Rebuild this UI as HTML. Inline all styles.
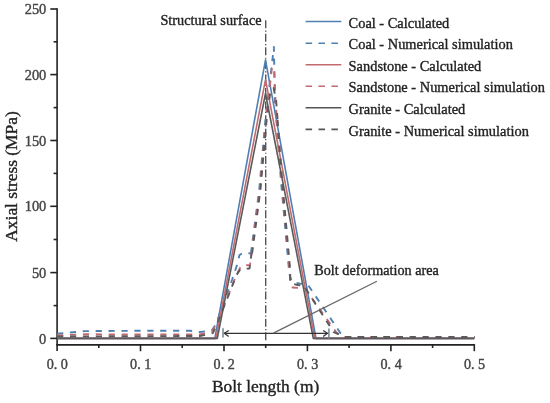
<!DOCTYPE html>
<html><head><meta charset="utf-8">
<style>
html,body{margin:0;padding:0;background:#fff;}
svg{display:block;filter:blur(0.35px);}
text{font-family:"Liberation Serif","Times New Roman",serif;fill:#222;stroke:#222;stroke-width:0.35px;}
.tk text{fill:#444;stroke:#444;stroke-width:0.42px;}
</style></head>
<body>
<svg width="550" height="403" viewBox="0 0 550 403">
<rect width="550" height="403" fill="#fff"/>

<!-- axes -->
<g stroke="#222" stroke-width="1.6" fill="none">
  <line x1="57.1" y1="8.2" x2="57.1" y2="351"/>
  <line x1="56.3" y1="344.9" x2="474.3" y2="344.9"/>
  <!-- y major ticks -->
  <line x1="50.3" y1="9" x2="57.1" y2="9"/>
  <line x1="50.3" y1="74.6" x2="57.1" y2="74.6"/>
  <line x1="50.3" y1="140.5" x2="57.1" y2="140.5"/>
  <line x1="50.3" y1="206.3" x2="57.1" y2="206.3"/>
  <line x1="50.3" y1="272.6" x2="57.1" y2="272.6"/>
  <line x1="50.3" y1="338.4" x2="57.1" y2="338.4"/>
  <!-- y minor ticks -->
  <line x1="53.6" y1="41.8" x2="57.1" y2="41.8"/>
  <line x1="53.6" y1="107.6" x2="57.1" y2="107.6"/>
  <line x1="53.6" y1="173.4" x2="57.1" y2="173.4"/>
  <line x1="53.6" y1="239.5" x2="57.1" y2="239.5"/>
  <line x1="53.6" y1="305.6" x2="57.1" y2="305.6"/>
  <!-- x major ticks -->
  <line x1="140.5" y1="344.9" x2="140.5" y2="351.2"/>
  <line x1="224" y1="344.9" x2="224" y2="351.2"/>
  <line x1="307.4" y1="344.9" x2="307.4" y2="351.2"/>
  <line x1="390.9" y1="344.9" x2="390.9" y2="351.2"/>
  <line x1="474.3" y1="344.1" x2="474.3" y2="351.2"/>
  <!-- x minor ticks -->
  <line x1="98.8" y1="344.9" x2="98.8" y2="348"/>
  <line x1="182.2" y1="344.9" x2="182.2" y2="348"/>
  <line x1="265.7" y1="344.9" x2="265.7" y2="348"/>
  <line x1="349.1" y1="344.9" x2="349.1" y2="348"/>
  <line x1="432.6" y1="344.9" x2="432.6" y2="348"/>
</g>

<!-- tick labels -->
<g class="tk" font-size="15.2" text-anchor="end">
  <text x="46.3" y="14.1" textLength="21.6" lengthAdjust="spacingAndGlyphs">250</text>
  <text x="46.3" y="79.7" textLength="21.6" lengthAdjust="spacingAndGlyphs">200</text>
  <text x="46.3" y="145.6" textLength="21.6" lengthAdjust="spacingAndGlyphs">150</text>
  <text x="46.3" y="211.4" textLength="21.6" lengthAdjust="spacingAndGlyphs">100</text>
  <text x="46.3" y="277.7" textLength="14.4" lengthAdjust="spacingAndGlyphs">50</text>
  <text x="46.3" y="343.5" textLength="7.2" lengthAdjust="spacingAndGlyphs">0</text>
</g>
<g class="tk" font-size="15.2" text-anchor="middle">
  <text x="57.3" y="368.7" textLength="21.2" lengthAdjust="spacingAndGlyphs">0. 0</text>
  <text x="140.7" y="368.7" textLength="21.2" lengthAdjust="spacingAndGlyphs">0. 1</text>
  <text x="224.2" y="368.7" textLength="21.2" lengthAdjust="spacingAndGlyphs">0. 2</text>
  <text x="307.6" y="368.7" textLength="21.2" lengthAdjust="spacingAndGlyphs">0. 3</text>
  <text x="391.1" y="368.7" textLength="21.2" lengthAdjust="spacingAndGlyphs">0. 4</text>
  <text x="474.5" y="368.7" textLength="21.2" lengthAdjust="spacingAndGlyphs">0. 5</text>
</g>

<!-- axis titles -->
<text x="265.6" y="391.5" font-size="17.4" text-anchor="middle">Bolt length (m)</text>
<text transform="translate(16.6,176.5) rotate(-90)" font-size="17.4" text-anchor="middle">Axial stress (MPa)</text>

<!-- structural surface -->
<text x="160.4" y="25.1" font-size="14.3">Structural surface</text>
<line x1="265.7" y1="20.2" x2="265.7" y2="341.3" stroke="#555" stroke-width="1.4" stroke-dasharray="8 2.3 1.2 2.07"/>

<!-- data -->
<g fill="none" stroke-width="1.6" stroke-linejoin="round">
  <polyline stroke="#5080b2" points="57.1,338.4 214.8,338.4 265.5,59.8 316.0,338.4 474.3,338.4"/>
  <polyline stroke="#5080b2" stroke-width="1.9" stroke-dasharray="6.2 6.7" points="57.1,333.8 70.0,332.5 85.0,331.1 150.0,330.7 190.0,330.7 200.0,332.0 211.7,330.5 216.0,324.0 224.0,302.0 232.0,280.0 237.0,265.0 239.5,255.0 243.0,253.0 251.5,253.5"/>
  <polyline stroke="#5080b2" stroke-width="1.9" stroke-dasharray="6.2 6.7" points="250.9,253.5 259.2,190.0 265.4,120.0 273.9,47.0 274.9,100.0 276.4,120.0"/>
  <polyline stroke="#5080b2" stroke-width="1.9" stroke-dasharray="6.2 6.7" points="276.4,120.0 280.9,180.0 285.4,230.0 289.0,270.0 289.9,276.0 291.9,282.0 299.4,283.5 307.4,284.0 340.4,333.0 345.4,337.0 351.4,338.0"/>
  <polyline stroke="#c26a70" points="57.1,338.4 216.0,338.4 265.5,79.7 314.8,338.4 474.3,338.4"/>
  <polyline stroke="#c26a70" stroke-width="1.9" stroke-dasharray="6.2 6.7" points="57.1,335.4 85.0,334.3 200.0,334.5 212.0,331.5 218.0,321.0 228.0,296.0 236.0,276.0 240.0,268.0 242.0,265.5 250.0,265.0 250.9,258.0 251.5,253.5"/>
  <polyline stroke="#c26a70" stroke-width="1.9" stroke-dasharray="6.2 6.7" points="251.5,253.5 259.8,190.0 266.0,120.0 271.9,68.0 274.0,67.0 275.5,100.0 277.0,120.0"/>
  <polyline stroke="#c26a70" stroke-width="1.9" stroke-dasharray="6.2 6.7" points="277.0,120.0 281.5,180.0 286.0,230.0 289.6,270.0 290.2,280.0 292.5,287.5 299.0,288.0 304.0,287.0 337.5,334.0 345.0,337.0 400.0,337.0"/>
  <polyline stroke="#5a5a5a" points="57.1,338.4 217.3,338.4 265.5,93.5 313.3,338.4 474.3,338.4"/>
  <polyline stroke="#5a5a5a" stroke-width="1.9" stroke-dasharray="6.2 6.7" points="57.1,336.5 200.0,336.0 213.0,333.0 219.0,319.0 229.0,294.0 236.5,275.0 240.5,269.0 249.5,268.5 250.0,265.0 251.5,253.5"/>
  <polyline stroke="#5a5a5a" stroke-width="1.9" stroke-dasharray="6.2 6.7" points="252.1,253.5 260.4,190.0 266.6,120.0 270.6,90.0 273.6,88.0 276.1,100.0 277.6,120.0"/>
  <polyline stroke="#5a5a5a" stroke-width="1.9" stroke-dasharray="6.2 6.7" points="277.6,120.0 282.1,180.0 286.6,230.0 290.2,270.0 290.2,283.0 297.6,285.0 303.6,285.5 333.6,332.0 345.6,337.0 474.9,337.0"/>
</g>

<!-- deformation area arrow -->
<g stroke="#333" stroke-width="1.2" fill="none">
  <line x1="224" y1="333.3" x2="327.7" y2="333.3"/>
  <polyline points="228.7,330.4 224.3,333.3 228.7,336.4"/>
  <polyline points="323.2,330.4 327.5,333.3 323.2,336.5"/>
</g>
<line x1="223" y1="328.2" x2="223" y2="337.6" stroke="#6f8290" stroke-width="1.5"/>
<line x1="328.9" y1="328.5" x2="328.9" y2="338.4" stroke="#6f8290" stroke-width="1.5"/>
<line x1="273.4" y1="333.1" x2="376.9" y2="281.2" stroke="#666" stroke-width="1.2"/>
<text x="314.3" y="274.7" font-size="14.2">Bolt deformation area</text>

<!-- legend -->
<g fill="none" stroke-width="1.6">
  <line x1="305.6" y1="21.5" x2="341.3" y2="21.5" stroke="#5080b2"/>
  <line x1="305.6" y1="43.2" x2="341.3" y2="43.2" stroke="#5080b2" stroke-dasharray="6.5 6.4"/>
  <line x1="305.6" y1="64.7" x2="341.3" y2="64.7" stroke="#c26a70"/>
  <line x1="305.6" y1="86.3" x2="341.3" y2="86.3" stroke="#c26a70" stroke-dasharray="6.5 6.4"/>
  <line x1="305.6" y1="107.8" x2="341.3" y2="107.8" stroke="#555"/>
  <line x1="305.6" y1="129.4" x2="341.3" y2="129.4" stroke="#555" stroke-dasharray="6.5 6.4"/>
</g>
<g font-size="14.4">
  <text x="348.6" y="27.6">Coal - Calculated</text>
  <text x="348.6" y="49.2">Coal - Numerical simulation</text>
  <text x="348.6" y="70.8">Sandstone - Calculated</text>
  <text x="348.6" y="92.4">Sandstone - Numerical simulation</text>
  <text x="348.6" y="114">Granite - Calculated</text>
  <text x="348.6" y="135.6">Granite - Numerical simulation</text>
</g>
</svg>
</body></html>
